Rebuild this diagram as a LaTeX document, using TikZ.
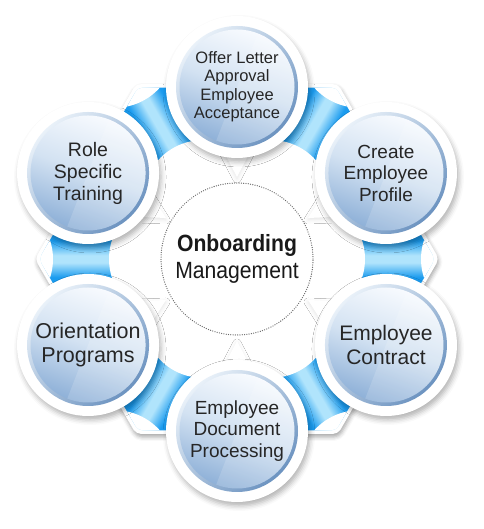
\documentclass[tikz,border=0pt]{standalone}
\usepackage{fontspec}
\setmainfont{Liberation Sans}
\newfontfamily\hubfont[FakeStretch=0.9]{Liberation Sans}
\usetikzlibrary{calc,shadows.blur}

\definecolor{bridgedark}{HTML}{1A9BEF}
\definecolor{bridgelight}{HTML}{B0E4FC}
\definecolor{ballhi}{HTML}{F7FAFE}
\definecolor{ballmid}{HTML}{D3E2F2}
\definecolor{balllo}{HTML}{8FB1D8}
\definecolor{rimlight}{HTML}{E9F1F9}
\definecolor{rimdark}{HTML}{6C93C0}
\definecolor{labelgray}{HTML}{262626}

\pgfdeclareverticalshading{bridgeshade}{100bp}{color(0bp)=(bridgedark); color(40bp)=(bridgedark);
  color(48bp)=(bridgelight); color(52bp)=(bridgelight); color(60bp)=(bridgedark); color(100bp)=(bridgedark)}

\tikzset{
  softshadow/.style={blur shadow={shadow xshift=2pt, shadow yshift=-4pt, shadow blur radius=5pt, shadow opacity=30}},
  tailshadow/.style={blur shadow={shadow xshift=0pt, shadow yshift=-2pt, shadow blur radius=4pt, shadow opacity=10}},
  disc/.style={circle, fill=white, minimum size=142pt, inner sep=0pt, softshadow},
  rim/.style={circle, minimum size=122pt, inner sep=0pt, top color=rimlight, bottom color=rimdark, shading angle=45},
  ball/.style={circle, minimum size=115pt, inner sep=0pt,
    top color=ballhi, bottom color=balllo, middle color=ballmid, shading angle=-20},
  balltext/.style={align=center, text=labelgray},
  hub/.style={circle, minimum size=152pt, draw=black!60, line width=1.3pt, line cap=round,
    dash pattern=on 0pt off 2.3pt, align=center, text=black!90, font=\hubfont\fontsize{23.5}{27}\selectfont}
}

\begin{document}
\begin{tikzpicture}[x=1pt,y=1pt]
\useasboundingbox (0,0) rectangle (483,529);
\coordinate (c) at (237,270);

% white hexagon behind the ring
\fill[white, rounded corners=5pt, blur shadow={shadow xshift=1pt, shadow yshift=-3pt, shadow blur radius=4pt, shadow opacity=35}]
  ([shift={(c)}]0:202) -- ([shift={(c)}]60:202) -- ([shift={(c)}]120:202)
  -- ([shift={(c)}]180:202) -- ([shift={(c)}]240:202) -- ([shift={(c)}]300:202) -- cycle;

% blue bridges
\foreach \b in {0,60,...,300} {
  \begin{scope}[transform canvas={shift={(237pt,270pt)}, rotate=\b}]
    \clip[rounded corners=5pt] (0:198) -- (60:198) -- (120:198) -- (180:198) -- (240:198) -- (300:198) -- cycle;
    \shade[shading=bridgeshade] (89,-46) rectangle (212,46);
    \fill[white] (244,0) circle (60);
    \fill[white] (68,0) circle (60);
  \end{scope}
}
\fill[white] (c) circle (100);

% steps
\foreach \a/\fs/\ls/\txt [count=\i] in {90/16.5/18.5/{Offer Letter\\Approval\\Employee\\Acceptance},
    30/19/21.5/{Create\\Employee\\Profile}, -30/21/24.5/{Employee\\Contract},
    -90/19/21.5/{Employee\\Document\\Processing}, -150/21.5/24.5/{Orientation\\Programs},
    150/19.5/22/{Role\\Specific\\Training}} {
  \fill[white, tailshadow] ([shift={(c)}]\a+7:108) -- ([shift={(c)}]\a:82) -- ([shift={(c)}]\a-7:108) -- cycle;
  \node[disc] (d\i) at ([shift={(c)}]\a:172) {};
  \node[rim] (r\i) at (d\i) {};
  \node[ball] (b\i) at (d\i) {};
  \begin{scope}
    \clip (b\i) circle (57.5);
    \fill[white, opacity=.15] ($(b\i)+(24,62)$) -- ($(b\i)+(-24,-62)$) -- ++(90,0) -- ++(0,124) -- cycle;
  \end{scope}
  \node[balltext, font=\fontsize{\fs}{\ls}\selectfont] (t\i) at (b\i) {\txt};
}

\node[hub] (hub) at (c) {{\bfseries Onboarding}\\Management};
\end{tikzpicture}
\end{document}
